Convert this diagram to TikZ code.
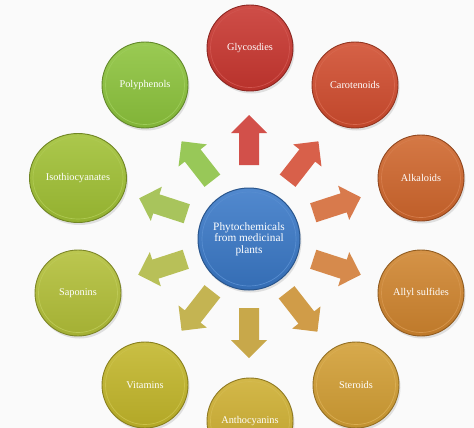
\documentclass[tikz,border=0pt]{standalone}
\usepackage{fontspec}
\setmainfont{Liberation Serif}
\usetikzlibrary{shadows,shapes.geometric}
\definecolor{bgc}{HTML}{FAFAFA}
\definecolor{cGly}{HTML}{C8362F}
\definecolor{cCar}{HTML}{D04C2E}
\definecolor{cAlk}{HTML}{CF662C}
\definecolor{cAll}{HTML}{CF842E}
\definecolor{cSte}{HTML}{D29E34}
\definecolor{cAnt}{HTML}{CDAE30}
\definecolor{cVit}{HTML}{C2B62A}
\definecolor{cSap}{HTML}{B2BF38}
\definecolor{cIso}{HTML}{A0C034}
\definecolor{cPol}{HTML}{8CC33C}
\definecolor{cCen}{HTML}{3A79C8}
\definecolor{a1}{HTML}{D2504A}
\definecolor{a2}{HTML}{D8604A}
\definecolor{a3}{HTML}{D87A4C}
\definecolor{a4}{HTML}{D68A4C}
\definecolor{a5}{HTML}{D09C48}
\definecolor{a6}{HTML}{C8A84A}
\definecolor{a7}{HTML}{C4B452}
\definecolor{a8}{HTML}{B8C058}
\definecolor{a9}{HTML}{A8C45C}
\definecolor{a10}{HTML}{98C858}
\tikzset{
  bubble/.style={circle, minimum size=86pt, inner sep=0pt, draw=#1!70!black, line width=0.9pt,
    top color=#1!88!white, bottom color=#1!92!black, text=white,
    font=\fontsize{10.3}{11}\selectfont,
    drop shadow={opacity=0.22, shadow xshift=1.5pt, shadow yshift=-2.5pt},
    path picture={\draw[#1!85!white, line width=0.7pt] (path picture bounding box.center) circle (39.5pt);}},
  centre/.style={circle, minimum size=102pt, inner sep=0pt, draw=#1!70!black, line width=1pt,
    top color=#1!88!white, bottom color=#1!90!black, text=white, align=center,
    font=\fontsize{11.3}{11.7}\selectfont,
    drop shadow={opacity=0.22, shadow xshift=1.5pt, shadow yshift=-2.5pt},
    path picture={\draw[#1!85!white, line width=0.7pt] (path picture bounding box.center) circle (47pt);}},
}
\newcommand\blockarrow[4]{\fill[#4, shift={(#1,#2)}, rotate=#3] (-25,-10) -- (7,-10) -- (7,-18) -- (25,0) -- (7,18) -- (7,10) -- (-25,10) -- cycle;}
\begin{document}
\begin{tikzpicture}[x=1pt, y=-1pt]
\fill[bgc] (0,0) rectangle (474,428);
\useasboundingbox (0,0) rectangle (474,428);
\clip (0,0) rectangle (474,428);
% arrows
\blockarrow{249}{140}{90}{a1}
\blockarrow{303}{161}{52}{a2}
\blockarrow{337}{205}{18}{a3}
\blockarrow{337}{267}{-18}{a4}
\blockarrow{302}{312}{-52}{a5}
\blockarrow{249}{333}{-90}{a6}
\blockarrow{197}{311}{-128}{a7}
\blockarrow{162}{267}{198}{a8}
\blockarrow{163}{206}{162}{a9}
\blockarrow{197}{161}{128}{a10}
% outer circles
\node[bubble=cGly] (gly) at (250,48) {Glycosdies};
\node[bubble=cCar] (car) at (355,85) {Carotenoids};
\node[bubble=cAlk] (alk) at (421,178) {Alkaloids};
\node[bubble=cAll] (all) at (421,293) {Allyl sulfides};
\node[bubble=cSte] (ste) at (356,385) {Steroids};
\node[bubble=cAnt] (ant) at (250,421) {Anthocyanins};
\node[bubble=cVit] (vit) at (145,385) {Vitamins};
\node[bubble=cSap] (sap) at (78,293) {Saponins};
\node[bubble=cIso, ellipse, minimum width=97pt, minimum height=89pt,
  path picture={\draw[cIso!85!white, line width=0.7pt] (path picture bounding box.center) ellipse (45pt and 41pt);}] (iso) at (78,178) {Isothiocyanates};
\node[bubble=cPol] (pol) at (145,85) {Polyphenols};
% centre
\node[centre=cCen] (cen) at (249,239) {Phytochemicals\\from medicinal\\plants};
\end{tikzpicture}
\end{document}
